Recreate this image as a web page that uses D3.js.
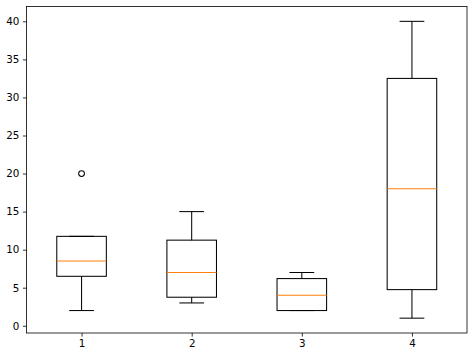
<!DOCTYPE html>
<html><head><meta charset="utf-8">
<script src="https://cdn.jsdelivr.net/npm/d3@7"></script>
<style>body{margin:0;background:#fff}svg{display:block}</style>
</head><body>
<script>
const categories = ["1", "2", "3", "4"];
const whiskerLow = [2, 3, 2, 1];
const q1 = [6.5, 3.75, 2, 4.75];
const median = [8.5, 7, 4, 18];
const q3 = [11.75, 11.25, 6.2, 32.5];
const whiskerHigh = [11.75, 15, 7, 40];
const outliers = [[20], [], [], []];
const yTicks = [0, 5, 10, 15, 20, 25, 30, 35, 40];

const W = 474, H = 358;
const m = {left: 26.5, right: 7, top: 6.5, bottom: 25};
const svg = d3.select("body").append("svg").attr("width", W).attr("height", H);
const x = d3.scaleLinear().domain([0.5, 4.5]).range([m.left, W - m.right]);
const y = d3.scaleLinear().domain([-0.95, 41.95]).range([H - m.bottom, m.top]);
const boxW = x(0.45) - x(0);
const lw = 1.03;

const g = svg.append("g");
categories.forEach((c, i) => {
  const cx = x(i + 1);
  const gg = g.append("g");
  // whiskers
  gg.append("line").attr("x1", cx).attr("x2", cx).attr("y1", y(q1[i])).attr("y2", y(whiskerLow[i]))
    .attr("stroke", "#000").attr("stroke-width", lw);
  gg.append("line").attr("x1", cx).attr("x2", cx).attr("y1", y(q3[i])).attr("y2", y(whiskerHigh[i]))
    .attr("stroke", "#000").attr("stroke-width", lw);
  // caps
  [whiskerLow[i], whiskerHigh[i]].forEach(v => {
    gg.append("line").attr("x1", cx - boxW / 4).attr("x2", cx + boxW / 4).attr("y1", y(v)).attr("y2", y(v))
      .attr("stroke", "#000").attr("stroke-width", lw);
  });
  // box
  gg.append("rect").attr("x", cx - boxW / 2).attr("width", boxW)
    .attr("y", y(q3[i])).attr("height", y(q1[i]) - y(q3[i]))
    .attr("fill", "none").attr("stroke", "#000").attr("stroke-width", lw);
  // median
  gg.append("line").attr("x1", cx - boxW / 2).attr("x2", cx + boxW / 2).attr("y1", y(median[i])).attr("y2", y(median[i]))
    .attr("stroke", "#ff7f0e").attr("stroke-width", lw);
  // outliers
  outliers[i].forEach(v => {
    gg.append("circle").attr("cx", cx).attr("cy", y(v)).attr("r", 2.9)
      .attr("fill", "none").attr("stroke", "#000").attr("stroke-width", lw);
  });
});

const fontFam = "'DejaVu Sans', sans-serif";
const xAxis = svg.append("g").attr("transform", `translate(0,${H - m.bottom})`)
  .call(d3.axisBottom(x).tickValues([1, 2, 3, 4]).tickFormat((d, i) => categories[i]).tickSize(3.6).tickPadding(3.5));
const yAxis = svg.append("g").attr("transform", `translate(${m.left},0)`)
  .call(d3.axisLeft(y).tickValues(yTicks).tickSize(3.6).tickPadding(3.5));
[xAxis, yAxis].forEach(a => {
  a.select(".domain").remove();
  a.selectAll(".tick line").attr("stroke", "#000").attr("stroke-width", 0.8);
  a.selectAll(".tick text").attr("fill", "#000").style("font-family", fontFam).style("font-size", "10.3px");
});
svg.append("rect").attr("x", m.left).attr("y", m.top).attr("width", W - m.right - m.left)
  .attr("height", H - m.bottom - m.top).attr("fill", "none").attr("stroke", "#000").attr("stroke-width", 0.8);
</script>
</body></html>
